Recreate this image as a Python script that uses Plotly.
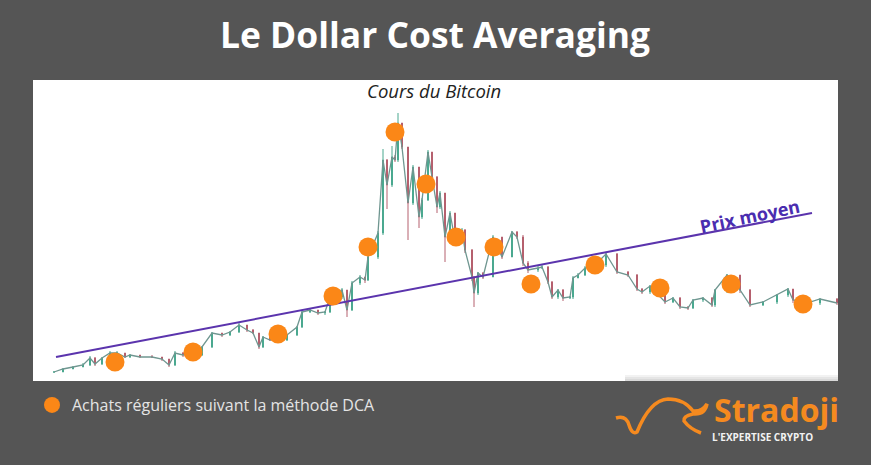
import plotly.graph_objects as go

W, H = 871, 465

# candles (x = time position, y = price, arbitrary units)
time_vals = [
    21, 30, 40, 50, 57, 62, 69, 77, 84, 92,
    97, 107, 119, 129, 136, 142, 150, 169, 179, 189,
    197, 206, 214, 220, 226, 230, 237, 254, 264, 269,
    277, 285, 292, 297, 309, 314, 319, 327, 332, 335,
    345, 350, 354, 359, 362, 365, 369, 375, 380, 386,
    389, 395, 399, 404, 407, 412, 417, 422, 429, 432,
    439, 441, 445, 450, 460, 469, 479, 484, 490, 495,
    505, 509, 515, 519, 525, 530, 537, 540, 545, 552,
    562, 573, 584, 595, 604, 609, 617, 632, 640, 647,
    655, 660, 670, 679, 682, 694, 707, 717, 730, 744,
    755, 760, 774, 787, 804,
]
close_vals = [
    9, 12, 14, 16, 23, 17, 23, 28, 28, 24,
    26, 24, 24, 22, 16, 28, 26, 34, 48, 46,
    49, 56, 51, 48, 34, 44, 41, 46, 54, 69,
    71, 68, 69, 84, 91, 71, 98, 104, 101, 124,
    148, 221, 196, 224, 221, 258, 234, 178, 214, 164,
    181, 229, 204, 174, 188, 144, 168, 141, 151, 131,
    104, 88, 108, 104, 144, 124, 149, 144, 118, 111,
    113, 114, 99, 84, 91, 83, 84, 103, 106, 113,
    116, 127, 109, 106, 92, 89, 95, 79, 83, 74,
    73, 81, 83, 76, 91, 106, 91, 76, 79, 86,
    92, 81, 78, 82, 78,
]
high_vals = [
    10, 13, 15, 18, 25, 24, 24, 30, 30, 28,
    27, 26, 26, 24, 22, 30, 29, 35, 49, 48,
    50, 59, 56, 52, 48, 45, 44, 47, 55, 70,
    73, 71, 70, 85, 93, 90, 100, 106, 104, 126,
    150, 232, 222, 235, 226, 268, 258, 234, 216, 214,
    183, 231, 228, 205, 190, 188, 170, 168, 153, 152,
    132, 105, 109, 109, 146, 144, 150, 150, 146, 120,
    115, 116, 115, 100, 92, 92, 85, 105, 108, 115,
    118, 128, 128, 110, 107, 93, 96, 96, 84, 84,
    75, 82, 84, 84, 92, 107, 92, 92, 80, 87,
    93, 92, 82, 83, 83,
]
low_vals = [
    8, 10, 12, 14, 15, 15, 16, 22, 26, 23,
    23, 23, 23, 20, 14, 15, 24, 25, 33, 44,
    45, 48, 49, 47, 32, 33, 40, 40, 45, 53,
    68, 66, 66, 68, 82, 64, 70, 96, 98, 100,
    122, 146, 172, 194, 219, 219, 232, 141, 176, 153,
    162, 180, 200, 168, 172, 119, 142, 136, 140, 128,
    100, 74, 86, 102, 104, 122, 124, 142, 115, 108,
    109, 112, 97, 82, 82, 80, 82, 82, 103, 105,
    112, 114, 107, 104, 90, 87, 87, 77, 78, 72,
    71, 72, 79, 74, 74, 88, 88, 74, 75, 77,
    84, 78, 76, 76, 76,
]
open_vals = [close_vals[0]] + close_vals[:-1]

# regular purchases
buy_times = [82, 160, 245, 300, 335, 362, 393, 423, 461, 498, 562, 627, 698, 770]
buy_prices = [19, 29, 47, 85, 134, 249, 197, 144, 134, 97, 116, 93, 97, 77]

# average price line
avg_times = [23, 779]
avg_prices = [24, 168]

title_text = "Le Dollar Cost Averaging"
chart_text = "Cours du Bitcoin"
avg_text = "Prix moyen"
legend_text = "Achats réguliers suivant la méthode DCA"
logo_text = "Stradoji"
logo_sub_text = "L'EXPERTISE CRYPTO"


def px(x):
    return x / W


def py(y):
    return 1 - y / H


def label(x, y, text, size, color, xanchor="center", angle=0):
    fig.add_annotation(x=px(x), y=py(y), xref="paper", yref="paper", text=text,
                       xanchor=xanchor, yanchor="middle", showarrow=False, textangle=angle,
                       font=dict(family="Open Sans", size=size, color=color))


fig = go.Figure()

# thin line under the candles so the price reads as continuous
fig.add_trace(go.Scatter(
    x=time_vals, y=close_vals, mode="lines", showlegend=False, hoverinfo="skip",
    line=dict(color="#6f9690", width=1.3),
))
fig.add_trace(go.Candlestick(
    x=time_vals, open=open_vals, high=high_vals, low=low_vals, close=close_vals,
    showlegend=False, whiskerwidth=0,
    increasing=dict(line=dict(color="#4aa88f", width=1), fillcolor="#4aa88f"),
    decreasing=dict(line=dict(color="#b5606e", width=1), fillcolor="#b5606e"),
))
fig.add_trace(go.Scatter(
    x=avg_times, y=avg_prices, mode="lines", showlegend=False,
    line=dict(color="#5b34ad", width=2),
))
fig.add_trace(go.Scatter(
    x=buy_times, y=buy_prices, mode="markers", name=legend_text,
    marker=dict(color="#fb8717", size=19),
))

label(435, 34, f"<b>{title_text}</b>", 35.4, "white")
label(434, 91, f"<i>{chart_text}</i>", 18.5, "#222222")
label(750, 216, f"<b>{avg_text}</b>", 18, "#4a2db0", angle=-12)

# logo
label(712, 409, f"<b>{logo_text}</b>", 32, "#f58a1f", xanchor="left")
label(710, 437, f"<b>{logo_sub_text}</b>", 10, "#f2f2f2", xanchor="left")
swoosh = (
    f"M {px(616)},{py(418)} Q {px(626)},{py(415)} {px(629)},{py(425)} T {px(637)},{py(432)} "
    f"Q {px(650)},{py(400)} {px(668)},{py(399)} Q {px(684)},{py(399)} {px(693)},{py(411)} "
    f"Q {px(702)},{py(412)} {px(707)},{py(404)} Q {px(705)},{py(415)} {px(693)},{py(414)} "
    f"Q {px(683)},{py(416)} {px(684)},{py(421)} Q {px(690)},{py(429)} {px(701)},{py(433)}"
)
fig.add_shape(type="path", path=swoosh, xref="paper", yref="paper",
              line=dict(color="#f58a1f", width=3.5))

# soft shadow at the bottom right of the picture
for top in [375, 377, 379]:
    fig.add_shape(type="rect", x0=px(625), x1=px(838), y0=py(381), y1=py(top), xref="paper", yref="paper",
                  fillcolor="rgba(0,0,0,0.05)", line_width=0)

fig.update_xaxes(domain=[px(33), px(838)], range=[0, 805], visible=False)
fig.update_yaxes(domain=[py(381), py(80)], range=[0, 301], visible=False)

fig.update_layout(
    width=W, height=H,
    margin=dict(l=0, r=0, t=0, b=0),
    paper_bgcolor="#555555",
    plot_bgcolor="white",
    xaxis_rangeslider_visible=False,
    showlegend=True,
    legend=dict(
        x=px(32), y=py(405), xanchor="left", yanchor="middle", bgcolor="rgba(0,0,0,0)",
        font=dict(family="Open Sans", size=16, color="#e4e4e4"), itemwidth=30,
    ),
)

fig.write_html("out.html", config={"displayModeBar": False},
               post_script="document.body.style.margin='0';document.body.style.background='#555555';")
